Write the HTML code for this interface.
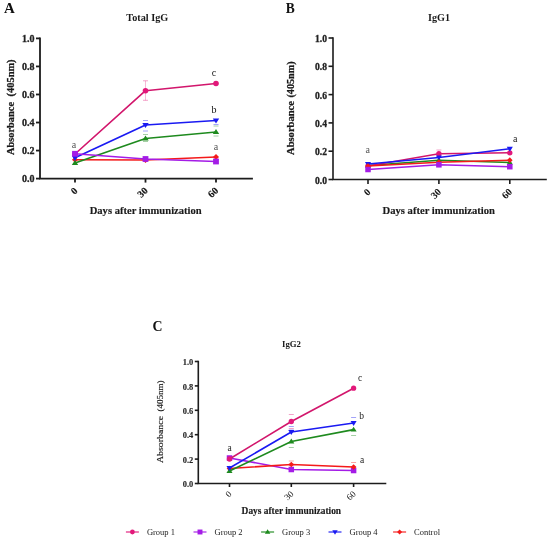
<!DOCTYPE html>
<html><head><meta charset="utf-8"><style>
html,body{margin:0;padding:0;background:#fff;width:550px;height:540px;overflow:hidden}
#w{will-change:transform;width:550px;height:540px}
svg{display:block;font-family:"Liberation Serif", serif}
</style></head><body><div id="w">
<svg width="550" height="540" viewBox="0 0 550 540">
<path d="M40 38.4 V178.6 H252" fill="none" stroke="#1c1c1c" stroke-width="1.8" stroke-linecap="square"/>
<line x1="36" y1="178.60" x2="40" y2="178.60" stroke="#1c1c1c" stroke-width="1.8"/>
<text x="22.0" y="182.30" font-size="10" font-weight="bold" text-anchor="start" fill="#222" textLength="12.5" lengthAdjust="spacingAndGlyphs" stroke="#222" stroke-width="0.3">0.0</text>
<line x1="36" y1="150.56" x2="40" y2="150.56" stroke="#1c1c1c" stroke-width="1.8"/>
<text x="22.0" y="154.26" font-size="10" font-weight="bold" text-anchor="start" fill="#222" textLength="12.5" lengthAdjust="spacingAndGlyphs" stroke="#222" stroke-width="0.3">0.2</text>
<line x1="36" y1="122.52" x2="40" y2="122.52" stroke="#1c1c1c" stroke-width="1.8"/>
<text x="22.0" y="126.22" font-size="10" font-weight="bold" text-anchor="start" fill="#222" textLength="12.5" lengthAdjust="spacingAndGlyphs" stroke="#222" stroke-width="0.3">0.4</text>
<line x1="36" y1="94.48" x2="40" y2="94.48" stroke="#1c1c1c" stroke-width="1.8"/>
<text x="22.0" y="98.18" font-size="10" font-weight="bold" text-anchor="start" fill="#222" textLength="12.5" lengthAdjust="spacingAndGlyphs" stroke="#222" stroke-width="0.3">0.6</text>
<line x1="36" y1="66.44" x2="40" y2="66.44" stroke="#1c1c1c" stroke-width="1.8"/>
<text x="22.0" y="70.14" font-size="10" font-weight="bold" text-anchor="start" fill="#222" textLength="12.5" lengthAdjust="spacingAndGlyphs" stroke="#222" stroke-width="0.3">0.8</text>
<line x1="36" y1="38.40" x2="40" y2="38.40" stroke="#1c1c1c" stroke-width="1.8"/>
<text x="22.0" y="42.10" font-size="10" font-weight="bold" text-anchor="start" fill="#222" textLength="12.5" lengthAdjust="spacingAndGlyphs" stroke="#222" stroke-width="0.3">1.0</text>
<line x1="75" y1="178.6" x2="75" y2="182.6" stroke="#1c1c1c" stroke-width="1.8"/>
<text x="74.00" y="194.20" font-size="10" font-weight="bold" text-anchor="middle" fill="#111" stroke="#111" stroke-width="0.15" transform="rotate(-45 74.00 190.80)">0</text>
<line x1="145.5" y1="178.6" x2="145.5" y2="182.6" stroke="#1c1c1c" stroke-width="1.8"/>
<text x="142.50" y="195.70" font-size="10" font-weight="bold" text-anchor="middle" fill="#111" stroke="#111" stroke-width="0.15" transform="rotate(-45 142.50 192.30)">30</text>
<line x1="216" y1="178.6" x2="216" y2="182.6" stroke="#1c1c1c" stroke-width="1.8"/>
<text x="213.00" y="195.70" font-size="10" font-weight="bold" text-anchor="middle" fill="#111" stroke="#111" stroke-width="0.15" transform="rotate(-45 213.00 192.30)">60</text>
<text x="126.3" y="21" font-size="11" font-weight="bold" text-anchor="start" fill="#1a1a1a" textLength="42" lengthAdjust="spacingAndGlyphs">Total IgG</text>
<text x="89.7" y="213.5" font-size="10.6" font-weight="bold" text-anchor="start" fill="#1a1a1a" textLength="112" lengthAdjust="spacingAndGlyphs" stroke="#1a1a1a" stroke-width="0.15">Days after immunization</text>
<text x="0" y="0" font-size="10.5" font-weight="bold" fill="#1a1a1a" transform="translate(14.3 155) rotate(-90)" textLength="53" lengthAdjust="spacingAndGlyphs" stroke="#1a1a1a" stroke-width="0.25">Absorbance</text>
<text x="0" y="0" font-size="10.5" font-weight="bold" fill="#1a1a1a" transform="translate(14.3 96.4) rotate(-90)" textLength="37" lengthAdjust="spacingAndGlyphs" stroke="#1a1a1a" stroke-width="0.25">(405nm)</text>
<text x="4" y="13.2" font-size="15" font-weight="bold" text-anchor="start" fill="#111" textLength="10.8" lengthAdjust="spacingAndGlyphs">A</text>
<g stroke="#E2187A" stroke-width="1"><line x1="145.5" y1="80.8" x2="145.5" y2="100.3" stroke-opacity="0.3"/><line x1="143.0" y1="80.8" x2="148.0" y2="80.8" stroke-opacity="0.4"/><line x1="143.0" y1="100.3" x2="148.0" y2="100.3" stroke-opacity="0.4"/></g>
<polyline points="75,154 145.5,90.7 216,83.5" fill="none" stroke="#D2166C" stroke-width="1.65" stroke-linejoin="round"/>
<circle cx="75" cy="154" r="2.80" fill="#E2187A"/>
<circle cx="145.5" cy="90.7" r="2.80" fill="#E2187A"/>
<circle cx="216" cy="83.5" r="2.80" fill="#E2187A"/>
<polyline points="75,159.7 145.5,160 216,157" fill="none" stroke="#F41A1A" stroke-width="1.65" stroke-linejoin="round"/>
<polygon points="72.00,159.70 75.00,156.70 78.00,159.70 75.00,162.70" fill="#F41A1A"/>
<polygon points="142.50,160.00 145.50,157.00 148.50,160.00 145.50,163.00" fill="#F41A1A"/>
<polygon points="213.00,157.00 216.00,154.00 219.00,157.00 216.00,160.00" fill="#F41A1A"/>
<line x1="143.0" y1="134.5" x2="148.0" y2="134.5" stroke="#1E8A1E" stroke-width="1" stroke-opacity="0.4"/>
<line x1="143.0" y1="141.5" x2="148.0" y2="141.5" stroke="#1E8A1E" stroke-width="1" stroke-opacity="0.4"/>
<line x1="213.5" y1="126" x2="218.5" y2="126" stroke="#1E8A1E" stroke-width="1" stroke-opacity="0.4"/>
<line x1="213.5" y1="136" x2="218.5" y2="136" stroke="#1E8A1E" stroke-width="1" stroke-opacity="0.4"/>
<polyline points="75,163 145.5,138.5 216,132" fill="none" stroke="#1E8A1E" stroke-width="1.65" stroke-linejoin="round"/>
<polygon points="71.80,165.10 78.20,165.10 75.00,159.90" fill="#1E8A1E"/>
<polygon points="142.30,140.60 148.70,140.60 145.50,135.40" fill="#1E8A1E"/>
<polygon points="212.80,134.10 219.20,134.10 216.00,128.90" fill="#1E8A1E"/>
<line x1="143.0" y1="120.5" x2="148.0" y2="120.5" stroke="#1A1AF2" stroke-width="1" stroke-opacity="0.4"/>
<line x1="143.0" y1="131" x2="148.0" y2="131" stroke="#1A1AF2" stroke-width="1" stroke-opacity="0.4"/>
<line x1="213.5" y1="124.5" x2="218.5" y2="124.5" stroke="#1A1AF2" stroke-width="1" stroke-opacity="0.4"/>
<polyline points="75,157.8 145.5,125 216,120.5" fill="none" stroke="#1A1AF2" stroke-width="1.65" stroke-linejoin="round"/>
<polygon points="71.80,155.70 78.20,155.70 75.00,160.90" fill="#1A1AF2"/>
<polygon points="142.30,122.90 148.70,122.90 145.50,128.10" fill="#1A1AF2"/>
<polygon points="212.80,118.40 219.20,118.40 216.00,123.60" fill="#1A1AF2"/>
<polyline points="75,153.8 145.5,159 216,161.5" fill="none" stroke="#A41CE6" stroke-width="1.65" stroke-linejoin="round"/>
<rect x="72.10" y="150.90" width="5.80" height="5.80" fill="#A41CE6"/>
<rect x="142.60" y="156.10" width="5.80" height="5.80" fill="#A41CE6"/>
<rect x="213.10" y="158.60" width="5.80" height="5.80" fill="#A41CE6"/>
<text x="74" y="148.3" font-size="10" font-weight="normal" text-anchor="middle" fill="#555" >a</text>
<text x="214" y="76" font-size="10" font-weight="normal" text-anchor="middle" fill="#111" >c</text>
<text x="214" y="112.5" font-size="10" font-weight="normal" text-anchor="middle" fill="#111" >b</text>
<text x="216" y="149.5" font-size="10" font-weight="normal" text-anchor="middle" fill="#555" >a</text>
<path d="M333 38 V179.5 H546" fill="none" stroke="#1c1c1c" stroke-width="1.6" stroke-linecap="square"/>
<line x1="328.5" y1="179.50" x2="333" y2="179.50" stroke="#1c1c1c" stroke-width="1.6"/>
<text x="315" y="183.60" font-size="10" font-weight="bold" text-anchor="start" fill="#222" textLength="12" lengthAdjust="spacingAndGlyphs" stroke="#222" stroke-width="0.3">0.0</text>
<line x1="328.5" y1="151.20" x2="333" y2="151.20" stroke="#1c1c1c" stroke-width="1.6"/>
<text x="315" y="155.30" font-size="10" font-weight="bold" text-anchor="start" fill="#222" textLength="12" lengthAdjust="spacingAndGlyphs" stroke="#222" stroke-width="0.3">0.2</text>
<line x1="328.5" y1="122.90" x2="333" y2="122.90" stroke="#1c1c1c" stroke-width="1.6"/>
<text x="315" y="127.00" font-size="10" font-weight="bold" text-anchor="start" fill="#222" textLength="12" lengthAdjust="spacingAndGlyphs" stroke="#222" stroke-width="0.3">0.4</text>
<line x1="328.5" y1="94.60" x2="333" y2="94.60" stroke="#1c1c1c" stroke-width="1.6"/>
<text x="315" y="98.70" font-size="10" font-weight="bold" text-anchor="start" fill="#222" textLength="12" lengthAdjust="spacingAndGlyphs" stroke="#222" stroke-width="0.3">0.6</text>
<line x1="328.5" y1="66.30" x2="333" y2="66.30" stroke="#1c1c1c" stroke-width="1.6"/>
<text x="315" y="70.40" font-size="10" font-weight="bold" text-anchor="start" fill="#222" textLength="12" lengthAdjust="spacingAndGlyphs" stroke="#222" stroke-width="0.3">0.8</text>
<line x1="328.5" y1="38.00" x2="333" y2="38.00" stroke="#1c1c1c" stroke-width="1.6"/>
<text x="315" y="42.10" font-size="10" font-weight="bold" text-anchor="start" fill="#222" textLength="12" lengthAdjust="spacingAndGlyphs" stroke="#222" stroke-width="0.3">1.0</text>
<line x1="368" y1="179.5" x2="368" y2="184.0" stroke="#1c1c1c" stroke-width="1.6"/>
<text x="367.20" y="195.40" font-size="10" font-weight="bold" text-anchor="middle" fill="#111" stroke="#111" stroke-width="0.05" transform="rotate(-45 367.20 192.00)">0</text>
<line x1="438.9" y1="179.5" x2="438.9" y2="184.0" stroke="#1c1c1c" stroke-width="1.6"/>
<text x="435.90" y="196.90" font-size="10" font-weight="bold" text-anchor="middle" fill="#111" stroke="#111" stroke-width="0.05" transform="rotate(-45 435.90 193.50)">30</text>
<line x1="509.8" y1="179.5" x2="509.8" y2="184.0" stroke="#1c1c1c" stroke-width="1.6"/>
<text x="506.80" y="196.90" font-size="10" font-weight="bold" text-anchor="middle" fill="#111" stroke="#111" stroke-width="0.05" transform="rotate(-45 506.80 193.50)">60</text>
<text x="428" y="21" font-size="10.2" font-weight="bold" text-anchor="start" fill="#1a1a1a" textLength="22" lengthAdjust="spacingAndGlyphs">IgG1</text>
<text x="382.5" y="214" font-size="10.6" font-weight="bold" text-anchor="start" fill="#1a1a1a" textLength="112.5" lengthAdjust="spacingAndGlyphs" stroke="#1a1a1a" stroke-width="0.15">Days after immunization</text>
<text x="0" y="0" font-size="10.3" font-weight="bold" fill="#1a1a1a" transform="translate(294 155) rotate(-90)" textLength="54" lengthAdjust="spacingAndGlyphs" stroke="#1a1a1a" stroke-width="0.25">Absorbance</text>
<text x="0" y="0" font-size="10.3" font-weight="bold" fill="#1a1a1a" transform="translate(294 97.5) rotate(-90)" textLength="36" lengthAdjust="spacingAndGlyphs" stroke="#1a1a1a" stroke-width="0.25">(405nm)</text>
<text x="285.8" y="13.2" font-size="15" font-weight="bold" text-anchor="start" fill="#111" textLength="9" lengthAdjust="spacingAndGlyphs">B</text>
<polyline points="368,165.5 438.9,160.2 509.8,162.5" fill="none" stroke="#1E8A1E" stroke-width="1.5" stroke-linejoin="round"/>
<polygon points="364.96,167.50 371.04,167.50 368.00,162.56" fill="#1E8A1E"/>
<polygon points="435.86,162.19 441.94,162.19 438.90,157.25" fill="#1E8A1E"/>
<polygon points="506.76,164.50 512.84,164.50 509.80,159.56" fill="#1E8A1E"/>
<g stroke="#E2187A" stroke-width="1"><line x1="438.9" y1="150" x2="438.9" y2="157" stroke-opacity="0.15"/><line x1="436.4" y1="150" x2="441.4" y2="150" stroke-opacity="0.4"/><line x1="436.4" y1="157" x2="441.4" y2="157" stroke-opacity="0.4"/></g>
<polyline points="368,166 438.9,153.7 509.8,152.8" fill="none" stroke="#D2166C" stroke-width="1.5" stroke-linejoin="round"/>
<circle cx="368" cy="166" r="2.66" fill="#E2187A"/>
<circle cx="438.9" cy="153.7" r="2.66" fill="#E2187A"/>
<circle cx="509.8" cy="152.8" r="2.66" fill="#E2187A"/>
<polyline points="368,164 438.9,157.4 509.8,148.8" fill="none" stroke="#1A1AF2" stroke-width="1.5" stroke-linejoin="round"/>
<polygon points="364.96,162.00 371.04,162.00 368.00,166.94" fill="#1A1AF2"/>
<polygon points="435.86,155.41 441.94,155.41 438.90,160.34" fill="#1A1AF2"/>
<polygon points="506.76,146.81 512.84,146.81 509.80,151.75" fill="#1A1AF2"/>
<polyline points="368,166 438.9,162.2 509.8,160.2" fill="none" stroke="#F41A1A" stroke-width="1.5" stroke-linejoin="round"/>
<polygon points="365.15,166.00 368.00,163.15 370.85,166.00 368.00,168.85" fill="#F41A1A"/>
<polygon points="436.05,162.20 438.90,159.35 441.75,162.20 438.90,165.05" fill="#F41A1A"/>
<polygon points="506.95,160.20 509.80,157.35 512.65,160.20 509.80,163.05" fill="#F41A1A"/>
<polyline points="368,169.5 438.9,164.8 509.8,166.7" fill="none" stroke="#A41CE6" stroke-width="1.5" stroke-linejoin="round"/>
<rect x="365.25" y="166.75" width="5.51" height="5.51" fill="#A41CE6"/>
<rect x="436.14" y="162.05" width="5.51" height="5.51" fill="#A41CE6"/>
<rect x="507.05" y="163.94" width="5.51" height="5.51" fill="#A41CE6"/>
<text x="367.7" y="153" font-size="10" font-weight="normal" text-anchor="middle" fill="#555" >a</text>
<text x="515.3" y="142" font-size="10" font-weight="normal" text-anchor="middle" fill="#222" >a</text>
<path d="M198.3 361.5 V483.5 H385.5" fill="none" stroke="#1c1c1c" stroke-width="1.6" stroke-linecap="square"/>
<line x1="194.8" y1="483.50" x2="198.3" y2="483.50" stroke="#1c1c1c" stroke-width="1.6"/>
<text x="182.8" y="487.10" font-size="8.5" font-weight="bold" text-anchor="start" fill="#222" textLength="10.5" lengthAdjust="spacingAndGlyphs" stroke="#222" stroke-width="0.1">0.0</text>
<line x1="194.8" y1="459.10" x2="198.3" y2="459.10" stroke="#1c1c1c" stroke-width="1.6"/>
<text x="182.8" y="462.70" font-size="8.5" font-weight="bold" text-anchor="start" fill="#222" textLength="10.5" lengthAdjust="spacingAndGlyphs" stroke="#222" stroke-width="0.1">0.2</text>
<line x1="194.8" y1="434.70" x2="198.3" y2="434.70" stroke="#1c1c1c" stroke-width="1.6"/>
<text x="182.8" y="438.30" font-size="8.5" font-weight="bold" text-anchor="start" fill="#222" textLength="10.5" lengthAdjust="spacingAndGlyphs" stroke="#222" stroke-width="0.1">0.4</text>
<line x1="194.8" y1="410.30" x2="198.3" y2="410.30" stroke="#1c1c1c" stroke-width="1.6"/>
<text x="182.8" y="413.90" font-size="8.5" font-weight="bold" text-anchor="start" fill="#222" textLength="10.5" lengthAdjust="spacingAndGlyphs" stroke="#222" stroke-width="0.1">0.6</text>
<line x1="194.8" y1="385.90" x2="198.3" y2="385.90" stroke="#1c1c1c" stroke-width="1.6"/>
<text x="182.8" y="389.50" font-size="8.5" font-weight="bold" text-anchor="start" fill="#222" textLength="10.5" lengthAdjust="spacingAndGlyphs" stroke="#222" stroke-width="0.1">0.8</text>
<line x1="194.8" y1="361.50" x2="198.3" y2="361.50" stroke="#1c1c1c" stroke-width="1.6"/>
<text x="182.8" y="365.10" font-size="8.5" font-weight="bold" text-anchor="start" fill="#222" textLength="10.5" lengthAdjust="spacingAndGlyphs" stroke="#222" stroke-width="0.1">1.0</text>
<line x1="229.5" y1="483.5" x2="229.5" y2="487.0" stroke="#1c1c1c" stroke-width="1.6"/>
<text x="228.50" y="497.06" font-size="9" font-weight="normal" text-anchor="middle" fill="#111" stroke="#111" stroke-width="0" transform="rotate(-45 228.50 494.00)">0</text>
<line x1="291.3" y1="483.5" x2="291.3" y2="487.0" stroke="#1c1c1c" stroke-width="1.6"/>
<text x="288.80" y="498.56" font-size="9" font-weight="normal" text-anchor="middle" fill="#111" stroke="#111" stroke-width="0" transform="rotate(-45 288.80 495.50)">30</text>
<line x1="353.6" y1="483.5" x2="353.6" y2="487.0" stroke="#1c1c1c" stroke-width="1.6"/>
<text x="351.10" y="498.56" font-size="9" font-weight="normal" text-anchor="middle" fill="#111" stroke="#111" stroke-width="0" transform="rotate(-45 351.10 495.50)">60</text>
<text x="282" y="346.5" font-size="9" font-weight="bold" text-anchor="start" fill="#1a1a1a" textLength="19" lengthAdjust="spacingAndGlyphs">IgG2</text>
<text x="241.6" y="513.5" font-size="9.4" font-weight="bold" text-anchor="start" fill="#1a1a1a" textLength="99.5" lengthAdjust="spacingAndGlyphs" stroke="#1a1a1a" stroke-width="0.15">Days after immunization</text>
<text x="0" y="0" font-size="9" font-weight="normal" fill="#1a1a1a" transform="translate(163.2 463) rotate(-90)" textLength="47" lengthAdjust="spacingAndGlyphs" stroke="#1a1a1a" stroke-width="0.15">Absorbance</text>
<text x="0" y="0" font-size="9" font-weight="normal" fill="#1a1a1a" transform="translate(163.2 411.5) rotate(-90)" textLength="31" lengthAdjust="spacingAndGlyphs" stroke="#1a1a1a" stroke-width="0.15">(405nm)</text>
<text x="152.5" y="331.2" font-size="15" font-weight="bold" text-anchor="start" fill="#111" textLength="10" lengthAdjust="spacingAndGlyphs">C</text>
<polyline points="229.5,458 291.3,469.5 353.6,470.5" fill="none" stroke="#A41CE6" stroke-width="1.6" stroke-linejoin="round"/>
<rect x="226.75" y="455.25" width="5.51" height="5.51" fill="#A41CE6"/>
<rect x="288.55" y="466.75" width="5.51" height="5.51" fill="#A41CE6"/>
<rect x="350.85" y="467.75" width="5.51" height="5.51" fill="#A41CE6"/>
<line x1="288.8" y1="461" x2="293.8" y2="461" stroke="#F41A1A" stroke-width="1" stroke-opacity="0.4"/>
<line x1="351.1" y1="462.5" x2="356.1" y2="462.5" stroke="#F41A1A" stroke-width="1" stroke-opacity="0.4"/>
<polyline points="229.5,468.5 291.3,464.5 353.6,467" fill="none" stroke="#F41A1A" stroke-width="1.6" stroke-linejoin="round"/>
<polygon points="226.65,468.50 229.50,465.65 232.35,468.50 229.50,471.35" fill="#F41A1A"/>
<polygon points="288.45,464.50 291.30,461.65 294.15,464.50 291.30,467.35" fill="#F41A1A"/>
<polygon points="350.75,467.00 353.60,464.15 356.45,467.00 353.60,469.85" fill="#F41A1A"/>
<line x1="288.8" y1="447.5" x2="293.8" y2="447.5" stroke="#1E8A1E" stroke-width="1" stroke-opacity="0.4"/>
<line x1="351.1" y1="435.5" x2="356.1" y2="435.5" stroke="#1E8A1E" stroke-width="1" stroke-opacity="0.4"/>
<polyline points="229.5,471 291.3,441.5 353.6,429.6" fill="none" stroke="#1E8A1E" stroke-width="1.6" stroke-linejoin="round"/>
<polygon points="226.46,473.00 232.54,473.00 229.50,468.06" fill="#1E8A1E"/>
<polygon points="288.26,443.50 294.34,443.50 291.30,438.56" fill="#1E8A1E"/>
<polygon points="350.56,431.60 356.64,431.60 353.60,426.66" fill="#1E8A1E"/>
<line x1="288.8" y1="426.5" x2="293.8" y2="426.5" stroke="#1A1AF2" stroke-width="1" stroke-opacity="0.4"/>
<line x1="288.8" y1="430" x2="293.8" y2="430" stroke="#1A1AF2" stroke-width="1" stroke-opacity="0.4"/>
<line x1="351.1" y1="417.5" x2="356.1" y2="417.5" stroke="#1A1AF2" stroke-width="1" stroke-opacity="0.4"/>
<polyline points="229.5,468 291.3,432 353.6,423" fill="none" stroke="#1A1AF2" stroke-width="1.6" stroke-linejoin="round"/>
<polygon points="226.46,466.00 232.54,466.00 229.50,470.94" fill="#1A1AF2"/>
<polygon points="288.26,430.00 294.34,430.00 291.30,434.94" fill="#1A1AF2"/>
<polygon points="350.56,421.00 356.64,421.00 353.60,425.94" fill="#1A1AF2"/>
<line x1="288.8" y1="414.5" x2="293.8" y2="414.5" stroke="#E2187A" stroke-width="1" stroke-opacity="0.4"/>
<line x1="288.8" y1="428.5" x2="293.8" y2="428.5" stroke="#E2187A" stroke-width="1" stroke-opacity="0.4"/>
<polyline points="229.5,459 291.3,421.5 353.6,388.2" fill="none" stroke="#D2166C" stroke-width="1.6" stroke-linejoin="round"/>
<circle cx="229.5" cy="459" r="2.66" fill="#E2187A"/>
<circle cx="291.3" cy="421.5" r="2.66" fill="#E2187A"/>
<circle cx="353.6" cy="388.2" r="2.66" fill="#E2187A"/>
<text x="229.5" y="451" font-size="9.5" font-weight="normal" text-anchor="middle" fill="#222" >a</text>
<text x="360" y="380.8" font-size="9.5" font-weight="normal" text-anchor="middle" fill="#222" >c</text>
<text x="361.5" y="418.5" font-size="9.5" font-weight="normal" text-anchor="middle" fill="#222" >b</text>
<text x="362" y="462.5" font-size="9.5" font-weight="normal" text-anchor="middle" fill="#222" >a</text>
<line x1="125.9" y1="532" x2="138.9" y2="532" stroke="#E2187A" stroke-opacity="0.75" stroke-width="1.5"/>
<circle cx="132.4" cy="532" r="2.38" fill="#E2187A"/>
<text x="146.9" y="535" font-size="8.5" font-weight="normal" text-anchor="start" fill="#222" >Group 1</text>
<line x1="193.5" y1="532" x2="206.5" y2="532" stroke="#A41CE6" stroke-opacity="0.75" stroke-width="1.5"/>
<rect x="197.53" y="529.53" width="4.93" height="4.93" fill="#A41CE6"/>
<text x="214.5" y="535" font-size="8.5" font-weight="normal" text-anchor="start" fill="#222" >Group 2</text>
<line x1="261.1" y1="532" x2="274.1" y2="532" stroke="#1E8A1E" stroke-opacity="0.75" stroke-width="1.5"/>
<polygon points="264.88,533.78 270.32,533.78 267.60,529.37" fill="#1E8A1E"/>
<text x="282.1" y="535" font-size="8.5" font-weight="normal" text-anchor="start" fill="#222" >Group 3</text>
<line x1="328.5" y1="532" x2="341.5" y2="532" stroke="#1A1AF2" stroke-opacity="0.75" stroke-width="1.5"/>
<polygon points="332.28,530.22 337.72,530.22 335.00,534.63" fill="#1A1AF2"/>
<text x="349.5" y="535" font-size="8.5" font-weight="normal" text-anchor="start" fill="#222" >Group 4</text>
<line x1="393.1" y1="532" x2="406.1" y2="532" stroke="#F41A1A" stroke-opacity="0.75" stroke-width="1.5"/>
<polygon points="397.05,532.00 399.60,529.45 402.15,532.00 399.60,534.55" fill="#F41A1A"/>
<text x="414.1" y="535" font-size="8.5" font-weight="normal" text-anchor="start" fill="#222" >Control</text>
</svg></div></body></html>
